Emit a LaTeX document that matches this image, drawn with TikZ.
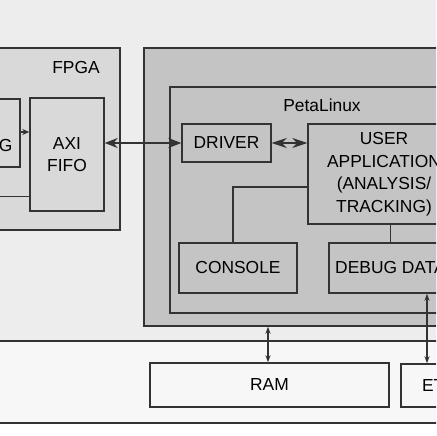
\documentclass[tikz,border=0pt]{standalone}
\usepackage{fontspec}
\setmainfont{Liberation Sans}
\usetikzlibrary{arrows.meta}
\definecolor{bg}{HTML}{EDEDED}
\definecolor{band}{HTML}{F7F7F7}
\definecolor{fpgafill}{HTML}{D9D9D9}
\definecolor{psfill}{HTML}{C4C4C4}
\definecolor{ln}{HTML}{333333}
\begin{document}
\begin{tikzpicture}[x=1pt,y=-1pt,
  font=\fontsize{17.4}{22.5}\selectfont,
  box/.style={draw=ln, line width=1.4pt, rectangle, inner sep=0pt, align=center, text=black},
  bigarr/.style={draw=ln, line width=1.4pt, {Stealth[length=13pt,width=10pt]}-{Stealth[length=13pt,width=10pt]}},
  midarr/.style={draw=ln, line width=1.4pt, {Stealth[length=15pt,width=10pt]}-{Stealth[length=15pt,width=10pt]}},
  smallarr/.style={draw=ln, line width=1.4pt, {Stealth[length=7pt,width=5pt]}-{Stealth[length=7pt,width=5pt]}},
  onearr/.style={draw=ln, line width=1.4pt, -{Stealth[length=7pt,width=6pt]}},
  plain/.style={draw=ln, line width=1.4pt}]
\useasboundingbox (0,0) rectangle (436,436);
\clip (0,0) rectangle (436,436);
% background
\fill[bg] (0,0) rectangle (436,436);
% board band
\fill[band] (-5,341) rectangle (441,423);
\fill[white] (-5,423) rectangle (441,441);
\draw[ln, line width=1.2pt] (-5,341) -- (441,341);
\draw[ln, line width=2pt] (-5,423) -- (441,423);
% FPGA
\node[box, fill=fpgafill, minimum width=140pt, minimum height=182pt] (fpga) at (50,139) {};
\node (fpgatitle) at (76,68) {FPGA};
\node[box, fill=fpgafill, minimum width=40pt, minimum height=68pt] (gbox) at (0,133) {};
\node[anchor=east, inner sep=0pt] (gtext) at (12.5,146) {G};
\node[box, fill=fpgafill, minimum width=74pt, minimum height=113pt] (axi) at (67,154.5) {AXI\\FIFO};
\coordinate (glink) at (0,132);
\draw[onearr] (gbox.east |- glink) -- (axi.west |- glink);
\coordinate (leftin) at (-5,196.5);
\draw[plain] (leftin) -- (axi.west |- leftin);
% Processing system
\node[box, fill=psfill, minimum width=326pt, minimum height=278pt] (ps) at (307,187) {};
\node[box, fill=psfill, minimum width=300pt, minimum height=226pt] (peta) at (320,200) {};
\node (petatitle) at (322,105) {PetaLinux};
\node[box, fill=psfill, minimum width=89pt, minimum height=38pt] (driver) at (226.5,143) {DRIVER};
\node[box, fill=psfill, minimum width=152pt, minimum height=100pt] (user) at (384,174) {USER\\APPLICATION\\(ANALYSIS/\\TRACKING)};
\node[box, fill=psfill, minimum width=118pt, minimum height=50pt] (console) at (238,268) {CONSOLE};
\node[box, fill=psfill, minimum width=123pt, minimum height=50pt] (debug) at (390.5,268) {DEBUG DATA};
% bottom boxes
\node[box, fill=band, minimum width=239pt, minimum height=44pt] (ram) at (269.5,385) {RAM};
\node[box, fill=band, minimum width=136pt, minimum height=43pt, text width=136pt] (et) at (469,385.5) {\hspace*{0pt}\hfill ETHERNET\hfill\hspace*{0pt}};
% connectors
\draw[bigarr] (axi.east |- driver.west) -- (driver.west);
\draw[midarr] (driver.east) -- (user.west |- driver.east);
\coordinate (cbend) at (233,187);
\draw[plain] (user.west |- cbend) -- (cbend) -- (console.north -| cbend);
\draw[plain] (debug.north |- user.south) -- (debug.north);
\coordinate (ramlink) at (268,0);
\draw[smallarr] (ps.south -| ramlink) -- (ram.north -| ramlink);
\coordinate (etlink) at (427,0);
\draw[smallarr] (debug.south -| etlink) -- (et.north -| etlink);
\end{tikzpicture}
\end{document}
